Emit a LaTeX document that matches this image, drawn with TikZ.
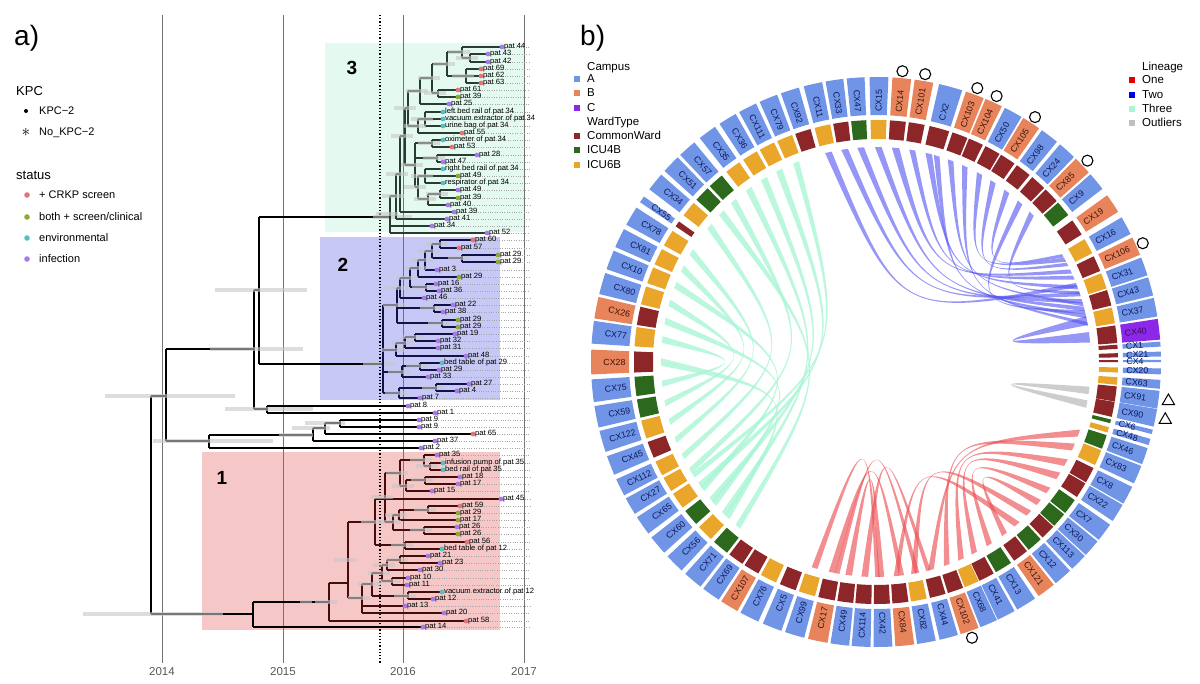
\documentclass[tikz,border=0pt]{standalone}
\usepackage{fontspec}
\setmainfont{Liberation Sans}
\usepackage{tikz}
\usetikzlibrary{shapes.geometric}

\definecolor{scrcol}{RGB}{226,118,118}
\definecolor{bothcol}{RGB}{138,172,48}
\definecolor{envcol}{RGB}{88,190,196}
\definecolor{infcol}{RGB}{168,122,232}
\definecolor{boxone}{RGB}{245,199,199}
\definecolor{boxtwo}{RGB}{200,200,247}
\definecolor{boxthree}{RGB}{228,250,240}
\definecolor{cladeone}{RGB}{70,12,12}
\definecolor{cladetwo}{RGB}{18,18,72}
\definecolor{cladethree}{RGB}{40,60,50}
\definecolor{campA}{RGB}{112,148,230}
\definecolor{campB}{RGB}{232,132,92}
\definecolor{campC}{RGB}{140,40,232}
\definecolor{txtA}{RGB}{12,24,90}
\definecolor{txtB}{RGB}{60,20,10}
\definecolor{txtC}{RGB}{60,10,90}
\definecolor{wardC}{RGB}{140,38,40}
\definecolor{ward4}{RGB}{45,105,28}
\definecolor{ward6}{RGB}{234,166,42}
\definecolor{linOne}{RGB}{235,80,85}
\definecolor{linTwo}{RGB}{85,85,240}
\definecolor{linThree}{RGB}{170,245,212}
\definecolor{linOut}{RGB}{200,200,200}

\tikzset{
  yearline/.style={draw=black!55, line width=0.8pt},
  yearlabel/.style={text=black!65, font=\fontsize{11.5}{13}\selectfont},
  br/.style={draw=black, line width=1.1pt},
  hpd/.style={draw=black!22, line width=4pt, opacity=0.6},
  tipline/.style={draw=black!35, dotted, line width=0.4pt},
  tiplabel/.style={anchor=west, inner sep=0pt, font=\fontsize{7.6}{8}\selectfont},
  cladenum/.style={font=\bfseries\fontsize{19}{20}\selectfont},
  panellabel/.style={anchor=base west, inner sep=0pt, font=\fontsize{28}{30}\selectfont},
  legtitle/.style={anchor=base west, inner sep=0pt, font=\fontsize{13}{15}\selectfont},
  legtext/.style={anchor=base west, inner sep=0pt, font=\fontsize{11}{13}\selectfont},
  legb/.style={anchor=base west, inner sep=0pt, font=\fontsize{11.5}{13}\selectfont},
  legsq/.style={minimum size=5.5pt, inner sep=0pt},
  cxlab/.style={inner sep=0.3pt, font=\fontsize{8.8}{10}\selectfont},
  ringmark/.style={circle, draw, fill=white, line width=1.1pt, minimum size=11pt, inner sep=0pt},
  trimark/.style={regular polygon, regular polygon sides=3, draw, line width=1pt, minimum size=14pt, inner sep=0pt},
  chordone/.style={fill=linOne, fill opacity=0.65},
  chordtwo/.style={fill=linTwo, fill opacity=0.62},
  chordthree/.style={fill=linThree, fill opacity=0.8},
  chordout/.style={fill=linOut, fill opacity=0.9}
}

\newcommand{\chord}[6]{%
  \fill[#1] (#2-#3:215) arc[start angle=#2-#3, end angle=#2+#3, radius=215]
    .. controls ({(#2+(#4))/2}:#6) .. (#4-#5:215)
    arc[start angle=#4-#5, end angle=#4+#5, radius=215]
    .. controls ({(#2+(#4))/2}:#6) .. (#2-#3:215) -- cycle;}

\begin{document}
\begin{tikzpicture}[x=1pt, y=-1pt]
\useasboundingbox (0,0) rectangle (1200,684);

% a) tree
\fill[boxthree] (325,43) rectangle (525,232);
\fill[boxtwo] (320,237) rectangle (500,400);
\fill[boxone] (202,452) rectangle (500,630);
\node[cladenum] (numthree) at (352,68) {3};
\node[cladenum] (numtwo) at (343,265) {2};
\node[cladenum] (numone) at (222,478) {1};

\foreach \yr/\x in {2014/162,2015/283,2016/403,2017/524}{
  \draw[yearline] (\x,15) -- (\x,663);
  \node[yearlabel] (yr\yr) at (\x,672) {\yr};
}
\draw[dotted, line width=1.2pt] (380,15) -- (380,663);

\node[panellabel] (labela) at (14,46) {a)};
\node[legtitle] (kpctitle) at (16,96) {KPC};
\fill (26,111) circle (2);
\node[legtext] (kpctwo) at (39,115) {KPC−2};
\node[font=\fontsize{16}{16}\selectfont, inner sep=0pt] (kpcstar) at (26,132) {$\ast$};
\node[legtext] (kpcno) at (39,136) {No\_KPC−2};
\node[legtitle] (statustitle) at (16,180) {status};
\foreach \cl/\yy/\txt [count=\i] in {scrcol/199/{+ CRKP screen}, bothcol/221/{both + screen/clinical},
    envcol/242/{environmental}, infcol/263/{infection}}{
  \fill[\cl] (27,\yy-4) circle (2.8);
  \node[legtext] (status\i) at (39,\yy) {\txt};
}

% backbone
\foreach \x/\ya/\yb in {259/217/364, 254/290/409, 267/406/413, 166/349/441, 209/435/448,
    313/428/441, 325/423/434, 340/420/427, 151/396/614, 253/602/627}
  \draw[br] (\x,\ya) -- (\x,\yb);
\foreach \xa/\xb/\y in {259/390/217, 259/383/364, 254/259/290, 254/267/409, 166/254/349,
    166/209/441, 209/313/435, 313/325/428, 325/340/423, 151/166/396, 151/253/614, 253/329/602}
  \draw[br] (\xa,\y) -- (\xb,\y);
\foreach \px/\ty/\tx/\tc/\tl [count=\i] in {267/406/408/infcol/pat 8, 267/413/435/infcol/pat 1,
    340/420/419/infcol/pat 9, 340/427/419/infcol/pat 9, 325/434/473/scrcol/pat 65,
    313/441/435/infcol/pat 37, 209/448/421/infcol/pat 2, 253/627/423/infcol/pat 14}{
  \draw[tipline] (\tx,\ty) -- (530,\ty);
  \draw[br] (\px,\ty) -- (\tx,\ty);
  \fill[\tc] (\tx,\ty) circle (2.4);
  \node[tiplabel] (tzero\i) at (\tx+2,\ty) {\tl};
}
\foreach \xa/\xb/\y in {83/223/614, 105/235/396, 210/303/349, 215/307/290, 225/313/409,
    153/273/441, 279/313/435, 292/330/428, 305/345/423, 300/312/602, 373/412/217, 363/395/364}
  \draw[hpd] (\xa,\y) -- (\xb,\y);

% clade 3
\begin{scope}[br/.style={draw=cladethree, line width=1.1pt}]
\foreach \x/\ya/\yb in {470/54/62, 462/47/58, 466/69/83, 447/52/76, 438/90/97, 432/64/93,
    420/78/104, 425/112/126, 418/119/133, 408/91/126, 432/140/147, 437/155/162, 425/169/183,
    440/190/198, 428/194/205, 418/176/199, 415/143/187, 405/108/165, 400/136/212, 396/174/219,
    390/196/233}
  \draw[br] (\x,\ya) -- (\x,\yb);
\foreach \xa/\xb/\y in {462/470/58, 447/462/52, 447/466/76, 432/447/64, 432/438/93, 420/432/78,
    418/425/119, 408/420/91, 408/418/126, 428/440/194, 418/425/176, 418/428/199, 415/432/143,
    415/437/158, 415/418/187, 405/408/108, 405/415/165, 400/405/136, 396/400/174, 390/396/196}
  \draw[br] (\xa,\y) -- (\xb,\y);
\foreach \px/\ty/\tx/\tc/\tl [count=\i] in {462/47/502/infcol/pat 44, 470/54/488/infcol/pat 43,
    470/62/488/infcol/pat 42, 466/69/481/scrcol/pat 69, 466/76/481/scrcol/pat 62,
    466/83/481/scrcol/pat 63, 438/90/458/scrcol/pat 61, 438/97/458/bothcol/pat 39,
    420/104/449/infcol/pat 25, 425/112/443/envcol/left bed rail of pat 34,
    425/119/443/envcol/vacuum extractor of pat 34, 425/126/443/envcol/urine bag of pat 34,
    418/133/462/scrcol/pat 55, 432/140/443/envcol/oximeter of pat 34, 432/147/452/scrcol/pat 53,
    437/155/477/infcol/pat 28, 437/162/443/infcol/pat 47, 425/169/443/envcol/right bed rail of pat 34,
    425/176/458/bothcol/pat 49, 425/183/443/envcol/respirator of pat 34, 440/190/458/infcol/pat 49,
    440/198/458/bothcol/pat 39, 428/205/448/infcol/pat 40, 400/212/454/infcol/pat 39,
    396/219/447/infcol/pat 41, 390/226/432/infcol/pat 34, 390/233/487/infcol/pat 52}{
  \draw[tipline] (\tx,\ty) -- (530,\ty);
  \draw[br] (\px,\ty) -- (\tx,\ty);
  \fill[\tc] (\tx,\ty) circle (2.4);
  \node[tiplabel] (tthree\i) at (\tx+2,\ty) {\tl};
}
\foreach \x/\y in {470/58, 462/52, 466/76, 447/64, 438/93, 432/78, 420/91, 425/119, 418/126,
    408/108, 432/143, 437/158, 425/176, 440/194, 428/199, 418/187, 415/165, 405/136, 400/174,
    396/196, 390/214}
  \draw[hpd] (\x-14,\y) -- (\x+8,\y);
\end{scope}

% clade 2
\begin{scope}[br/.style={draw=cladetwo, line width=1.1pt}]
\foreach \x/\ya/\yb in {440/240/248, 462/255/262, 432/244/258, 425/251/270, 418/260/277,
    426/284/291, 410/268/287, 400/278/298, 434/305/312, 442/320/327, 397/288/323, 415/334/341,
    405/337/348, 396/343/356, 420/363/370, 402/366/377, 436/384/391, 399/388/398, 383/305/393}
  \draw[br] (\x,\ya) -- (\x,\yb);
\foreach \xa/\xb/\y in {432/440/244, 432/462/258, 425/432/251, 418/425/260, 410/418/268,
    410/426/287, 400/410/278, 397/400/288, 397/434/308, 397/442/323, 405/415/337, 396/405/343,
    402/420/366, 399/436/388, 383/397/305, 383/396/350, 383/402/372, 383/399/393}
  \draw[br] (\xa,\y) -- (\xb,\y);
\foreach \px/\ty/\tx/\tc/\tl [count=\i] in {440/240/473/scrcol/pat 60, 440/248/459/scrcol/pat 57,
    462/255/498/bothcol/pat 29, 462/262/498/bothcol/pat 29, 425/270/437/infcol/pat 3,
    418/277/459/bothcol/pat 29, 426/284/436/infcol/pat 16, 426/291/439/infcol/pat 36,
    400/298/424/infcol/pat 46, 434/305/453/infcol/pat 22, 434/312/443/infcol/pat 38,
    442/320/458/bothcol/pat 29, 442/327/458/bothcol/pat 29, 415/334/455/infcol/pat 19,
    415/341/438/infcol/pat 32, 405/348/438/infcol/pat 31, 396/356/466/infcol/pat 48,
    420/363/442/envcol/bed table of pat 29, 420/370/439/infcol/pat 29, 402/377/428/infcol/pat 33,
    436/384/469/infcol/pat 27, 436/391/457/infcol/pat 4, 399/398/420/infcol/pat 7}{
  \draw[tipline] (\tx,\ty) -- (530,\ty);
  \draw[br] (\px,\ty) -- (\tx,\ty);
  \fill[\tc] (\tx,\ty) circle (2.4);
  \node[tiplabel] (ttwo\i) at (\tx+2,\ty) {\tl};
}
\foreach \x/\y in {440/244, 462/258, 432/251, 425/260, 418/268, 426/287, 410/278, 400/288,
    434/308, 442/323, 397/305, 415/337, 405/343, 396/350, 420/366, 402/372, 436/388, 399/393}
  \draw[hpd] (\x-14,\y) -- (\x+8,\y);
\end{scope}

% clade 1
\begin{scope}[br/.style={draw=cladeone, line width=1.1pt}]
\foreach \x/\ya/\yb in {430/463/470, 424/455/466, 425/477/484, 406/480/491, 400/460/486,
    428/506/513, 399/510/520, 424/527/534, 393/515/530, 385/473/522, 405/542/549, 375/499/545,
    400/556/563, 387/560/570, 392/578/585, 382/565/581, 408/592/599, 372/573/596, 362/584/613,
    348/522/598, 329/583/621}
  \draw[br] (\x,\ya) -- (\x,\yb);
\foreach \xa/\xb/\y in {424/430/466, 406/425/480, 400/424/460, 400/406/486, 399/428/510,
    393/399/515, 393/424/530, 385/400/473, 385/393/522, 375/385/499, 375/405/545, 387/400/560,
    382/387/565, 382/392/581, 372/382/573, 372/408/596, 362/372/584, 348/375/522, 348/362/598,
    329/348/583}
  \draw[br] (\xa,\y) -- (\xb,\y);
\foreach \px/\ty/\tx/\tc/\tl [count=\i] in {424/455/437/infcol/pat 35,
    430/463/443/envcol/infusion pump of pat 35, 430/470/443/envcol/bed rail of pat 35,
    425/477/460/infcol/pat 18, 425/484/458/infcol/pat 17, 406/491/432/infcol/pat 15,
    385/499/501/infcol/pat 45, 428/506/460/scrcol/pat 59, 428/513/458/bothcol/pat 29,
    399/520/458/bothcol/pat 17, 424/527/457/infcol/pat 26, 424/534/458/bothcol/pat 26,
    405/542/467/scrcol/pat 56, 405/549/442/envcol/bed table of pat 12, 400/556/428/infcol/pat 21,
    400/563/440/infcol/pat 23, 387/570/420/infcol/pat 30, 392/578/408/infcol/pat 10,
    392/585/407/infcol/pat 11, 408/592/442/envcol/vacuum extractor of pat 12,
    408/599/433/infcol/pat 12, 362/606/405/infcol/pat 13, 362/613/444/infcol/pat 20,
    329/621/466/scrcol/pat 58}{
  \draw[tipline] (\tx,\ty) -- (530,\ty);
  \draw[br] (\px,\ty) -- (\tx,\ty);
  \fill[\tc] (\tx,\ty) circle (2.4);
  \node[tiplabel] (tone\i) at (\tx+2,\ty) {\tl};
}
\foreach \x/\y in {430/466, 424/460, 425/480, 406/486, 400/473, 428/510, 399/515, 424/530,
    393/522, 385/497, 405/545, 375/522, 400/560, 387/565, 392/581, 382/573, 408/596, 372/584,
    362/598, 348/560, 329/602}
  \draw[hpd] (\x-14,\y) -- (\x+8,\y);
\end{scope}

% b) circos
\node[panellabel] (labelb) at (580,46) {b)};
\node[legb] (lgcampus) at (587,71) {Campus};
\foreach \cl/\yy/\txt [count=\i] in {campA/83/A, campB/97/B, campC/112/C}{
  \node[legsq, fill=\cl] (sqcamp\i) at (577,\yy-4) {};
  \node[legb] (lgcamp\i) at (587,\yy) {\txt};
}
\node[legb] (lgward) at (587,126) {WardType};
\foreach \cl/\yy/\txt [count=\i] in {wardC/140/CommonWard, ward4/154/ICU4B, ward6/169/ICU6B}{
  \node[legsq, fill=\cl] (sqward\i) at (577,\yy-4) {};
  \node[legb] (lgward\i) at (587,\yy) {\txt};
}
\node[legb] (lglin) at (1142,71) {Lineage};
\foreach \cl/\yy/\txt [count=\i] in {red!90!black/84/One, blue!90!black/99/Two, linThree/113/Three,
    black!25/127/Outliers}{
  \node[legsq, fill=\cl] (sqlin\i) at (1132,\yy-4) {};
  \node[legb] (lglin\i) at (1142,\yy) {\txt};
}

\begin{scope}[shift={(876,362)}, y=1pt]
\foreach \pa/\pw/\qa/\qw/\cc in {121.4/0.9/220.0/0.8/40, 116.8/0.9/215.0/0.8/30,
    126.3/0.9/225.0/0.8/45, 131.5/0.9/210.4/0.8/60, 136.0/0.9/230.0/0.8/40,
    140.8/0.9/206.1/0.8/80, 149.2/0.9/201.3/0.8/100, 154.2/0.9/196.2/0.8/110,
    159.0/0.9/216.2/0.8/70, 164.0/0.9/191.1/0.8/120, 169.0/0.9/221.2/0.8/70,
    174.0/0.9/185.8/0.8/130, 180.0/1.0/226.2/0.8/80, 111.8/0.8/211.8/0.7/30}
  \chord{chordthree}{\pa}{\pw}{\qa}{\qw}{\cc};
\foreach \pa/\pw/\qa/\qw/\cc in {102.8/0.9/21.0/0.6/50, 98.4/0.9/18.4/0.6/70,
    94.1/0.9/16.4/0.6/80, 89.4/0.9/14.3/0.6/90, 84.8/1.0/24.9/0.6/100, 80.3/0.8/23.1/0.6/105,
    75.8/0.9/20.3/0.6/110, 73.6/0.8/12.3/0.6/100, 69.7/0.8/15.5/0.5/115, 65.6/0.8/10.2/0.5/110,
    61.2/0.8/28.4/0.6/130, 57.0/0.8/27.0/0.5/130, 52.5/0.8/29.6/0.5/140, 47.9/0.8/13.4/0.5/110,
    43.6/0.8/18.8/0.5/140, 11.1/1.2/6.6/1.4/113}
  \chord{chordtwo}{\pa}{\pw}{\qa}{\qw}{\cc};
\foreach \pa/\pw/\qa/\qw/\cc in {-19.3/1.0/-75.2/0.8/110, -23.3/1.0/-70.8/0.8/100,
    -27.9/1.0/-66.7/0.8/110, -32.0/1.0/-62.8/0.8/115, -36.7/0.9/-58.2/0.8/125,
    -40.8/0.9/-53.3/0.8/140, -44.7/0.9/-79.8/0.8/100, -49.0/0.9/-84.6/0.7/100,
    -101.8/0.9/-83.2/0.7/75, -97.3/0.9/-88.6/0.8/85, -93.0/0.9/-75.9/0.6/70,
    -100.4/0.6/-79.0/0.6/60, -106.6/0.8/-89.6/0.6/60}
  \chord{chordone}{\pa}{\pw}{\qa}{\qw}{\cc};
\chord{chordout}{-7.6}{1.0}{-11.3}{1.0}{111}

\foreach \a/\w/\cp/\wt/\lab in {89.4/1.9/A/6/CX15, 84.8/1.9/B/C/CX14, 80.3/1.9/B/C/CX101,
    74.8/2.4/A/C/CX2, 69.7/1.9/B/C/CX103, 65.6/1.8/B/C/CX104, 61.2/1.9/A/C/CX50,
    57/1.9/B/C/CX105, 52.5/1.9/A/C/CX98, 47.9/1.9/A/C/CX24, 43.6/1.9/B/C/CX85,
    39.3/1.9/A/4/CX9, 33.8/2.0/B/C/CX19, 28.6/1.9/A/6/CX16, 24/1.9/B/C/CX106,
    19.6/1.9/A/6/CX31, 15.4/1.9/A/C/CX43, 11.1/1.9/A/6/CX37, 6.6/2.1/C/C/CX40,
    3.6/0.5/A/C/CX1, 1.6/0.5/A/C/CX21, 0.2/0.25/A/C/CX4, -1.9/0.6/A/6/CX20,
    -4.5/0.9/A/6/CX63, -7.6/1.8/A/C/CX91, -11.3/1.8/A/C/CX90, -14.2/0.45/A/4/CX6,
    -16.3/0.65/A/6/CX48, -19.3/1.7/A/4/CX46, -23.3/1.9/A/6/CX83, -27.9/1.9/A/C/CX8,
    -32/1.9/A/C/CX22, -36.7/1.9/A/4/CX7, -40.8/1.8/A/4/CX30, -44.7/1.8/A/C/CX113,
    -49/1.9/A/4/CX12, -53.3/1.9/B/C/CX121, -58.2/2.1/A/4/CX13, -62.8/1.9/A/C/CX41,
    -66.7/1.8/A/6/CX68, -70.8/1.9/B/C/CX102, -75.2/1.9/A/C/CX44, -79.8/1.9/A/6/CX82,
    -84.2/1.9/B/C/CX84, -88.6/1.9/A/C/CX42, -93/1.9/A/C/CX114, -97.3/1.9/A/C/CX49,
    -101.8/2.0/B/C/CX17, -106.6/2.0/A/6/CX99, -111.4/2.0/A/C/CX5, -116.4/2.0/A/6/CX76,
    -121/1.9/B/C/CX107, -125.4/1.9/A/C/CX69, -130/2.0/A/4/CX71, -135/2.0/A/6/CX56,
    -140/2.0/A/4/CX60, -145/2.0/A/6/CX65, -149.6/1.8/A/6/CX27, -153.9/1.8/A/6/CX112,
    -158.7/2.0/A/C/CX45, -163.8/2.2/A/6/CX122, -168.9/2.2/A/4/CX59, -174.2/2.3/A/4/CX75,
    -180/2.5/B/C/CX28, 174/2.3/A/6/CX77, 169/2.2/B/C/CX26, 164/2.2/A/6/CX80,
    159/2.0/A/6/CX10, 154.2/2.0/A/6/CX81, 149.2/2.0/A/6/CX78, 145.2/0.7/A/C/CX55,
    140.8/1.9/A/6/CX34, 136/1.9/A/4/CX51, 131.5/1.9/A/4/CX57, 126.3/1.9/A/6/CX35,
    121.4/1.9/A/6/CX36, 116.8/1.9/A/6/CX111, 112.2/1.9/A/6/CX79, 107.6/1.9/A/C/CX92,
    102.8/1.9/A/6/CX11, 98.4/1.8/A/C/CX33, 94.1/1.8/A/4/CX47}{
  \fill[camp\cp] (\a-\w:247) arc[start angle=\a-\w, end angle=\a+\w, radius=247]
    -- (\a+\w:285) arc[start angle=\a+\w, end angle=\a-\w, radius=285] -- cycle;
  \fill[ward\wt] (\a-\w:223) arc[start angle=\a-\w, end angle=\a+\w, radius=223]
    -- (\a+\w:242) arc[start angle=\a+\w, end angle=\a-\w, radius=242] -- cycle;
  \pgfmathtruncatemacro{\side}{cos(\a)>=0}
  \ifnum\side=1
    \node[cxlab, text=txt\cp, anchor=west, rotate=\a] (s\lab) at (\a:250) {\lab};
  \else
    \node[cxlab, text=txt\cp, anchor=east, rotate=\a+180] (s\lab) at (\a:250) {\lab};
  \fi
}
\foreach \a [count=\i] in {84.8, 80.3, 69.7, 65.6, 57, 43.6, 24, -70.8}
  \node[ringmark] (mk\i) at (\a:292) {};
\foreach \a [count=\i] in {-7.6, -11.3}
  \node[trimark] (tri\i) at (\a:295) {};
\end{scope}
\end{tikzpicture}
\end{document}
